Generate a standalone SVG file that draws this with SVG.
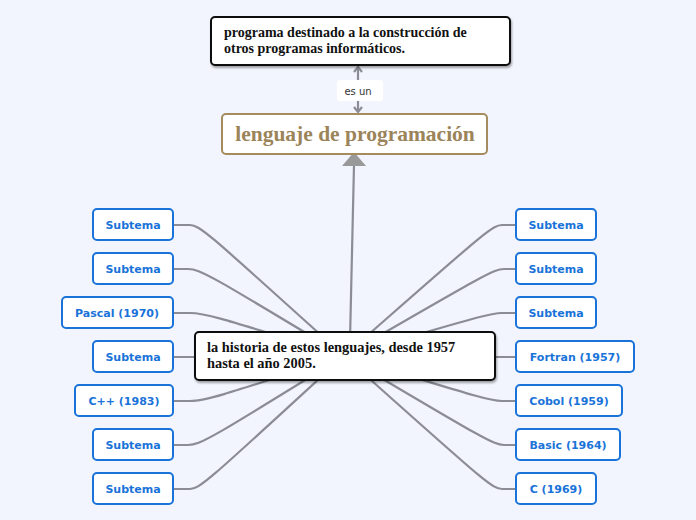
<svg xmlns="http://www.w3.org/2000/svg" width="696" height="520" viewBox="0 0 696 520">
<style>
.sub rect{fill:#fff;stroke:#1a73d9;stroke-width:2}
.sub text{font-family:"DejaVu Sans",sans-serif;font-weight:bold;font-size:11px;fill:#1a73d9;text-anchor:middle}
.c path{fill:none;stroke:#8c8c96;stroke-width:2.2}
.ser{font-family:"Liberation Serif",serif;font-weight:bold}
</style>
<defs>
<filter id="sh" x="-10%" y="-10%" width="120%" height="140%"><feDropShadow dx="1" dy="2" stdDeviation="1.2" flood-opacity="0.35"/></filter>
</defs>
<rect width="696" height="520" fill="#f2f5fd"/>
<g id="connectors" class="c">
<path d="M173 225 H190 C200 225 210 235 344 356"/>
<path d="M173 269 H188 C200 269 210 275 344 356"/>
<path d="M173 313 H190 C205 313 220 318 344 356"/>
<path d="M173 357 H344"/>
<path d="M173 401 H190 C205 401 220 396 344 356"/>
<path d="M173 445 H188 C200 445 210 439 344 356"/>
<path d="M173 489 H190 C200 489 210 479 344 356"/>
<path d="M516 225 H502 C492 225 482 235 344 356"/>
<path d="M516 269 H504 C494 269 484 275 344 356"/>
<path d="M516 313 H502 C490 313 475 318 344 356"/>
<path d="M516 357 H344"/>
<path d="M516 401 H502 C490 401 475 396 344 356"/>
<path d="M516 445 H504 C494 445 484 439 344 356"/>
<path d="M516 489 H502 C492 489 482 479 344 356"/>
<path d="M350 340 L354 165" stroke="#999" stroke-width="4"/>
<polygon points="342,166 354,152 366,166" fill="#999"/>
<path d="M358 66 V112" stroke="#fff" stroke-width="1.5"/>
<path d="M354 72 L358 67 L362 72 M354 107 L358 112 L362 107" stroke="#fff" stroke-width="1.5"/>
<rect x="337" y="80" width="46" height="21" rx="3" fill="#fff"/>
<text x="358" y="95" font-family="DejaVu Sans,sans-serif" font-size="10" fill="#333" text-anchor="middle">es un</text>
</g>
<g id="top">
<rect x="211" y="17" width="299" height="48" rx="4" fill="#fff" stroke="#111" stroke-width="2" filter="url(#sh)"/>
<text class="ser" x="224" y="37" font-size="14" fill="#111">programa destinado a la construcción de</text>
<text class="ser" x="224" y="53" font-size="14" fill="#111">otros programas informáticos.</text>
</g>
<g id="main">
<rect x="222" y="114" width="265" height="40" rx="4" fill="#fff" stroke="#a48c5e" stroke-width="2"/>
<text class="ser" x="355" y="141" font-size="21.5" fill="#9c845a" text-anchor="middle">lenguaje de programación</text>
</g>
<g id="center">
<rect x="195" y="332" width="300" height="48" rx="4" fill="#fff" stroke="#111" stroke-width="2" filter="url(#sh)"/>
<text class="ser" x="207" y="352" font-size="14.4" fill="#111">la historia de estos lenguajes, desde 1957</text>
<text class="ser" x="207" y="368" font-size="14.4" fill="#111">hasta el año 2005.</text>
</g>
<g id="l1" class="sub"><rect x="93" y="209" width="80" height="31" rx="4"/><text x="133" y="229">Subtema</text></g>
<g id="l2" class="sub"><rect x="93" y="253" width="80" height="31" rx="4"/><text x="133" y="273">Subtema</text></g>
<g id="l3" class="sub"><rect x="62" y="297" width="111" height="31" rx="4"/><text x="117" y="317">Pascal (1970)</text></g>
<g id="l4" class="sub"><rect x="93" y="341" width="80" height="31" rx="4"/><text x="133" y="361">Subtema</text></g>
<g id="l5" class="sub"><rect x="75" y="385" width="98" height="31" rx="4"/><text x="124" y="405">C++ (1983)</text></g>
<g id="l6" class="sub"><rect x="93" y="429" width="80" height="31" rx="4"/><text x="133" y="449">Subtema</text></g>
<g id="l7" class="sub"><rect x="93" y="473" width="80" height="31" rx="4"/><text x="133" y="493">Subtema</text></g>
<g id="r1" class="sub"><rect x="516" y="209" width="80" height="31" rx="4"/><text x="556" y="229">Subtema</text></g>
<g id="r2" class="sub"><rect x="516" y="253" width="80" height="31" rx="4"/><text x="556" y="273">Subtema</text></g>
<g id="r3" class="sub"><rect x="516" y="297" width="80" height="31" rx="4"/><text x="556" y="317">Subtema</text></g>
<g id="r4" class="sub"><rect x="516" y="341" width="118" height="31" rx="4"/><text x="575" y="361">Fortran (1957)</text></g>
<g id="r5" class="sub"><rect x="516" y="385" width="106" height="31" rx="4"/><text x="569" y="405">Cobol (1959)</text></g>
<g id="r6" class="sub"><rect x="516" y="429" width="104" height="31" rx="4"/><text x="568" y="449">Basic (1964)</text></g>
<g id="r7" class="sub"><rect x="516" y="473" width="80" height="31" rx="4"/><text x="556" y="493">C (1969)</text></g>
</svg>
